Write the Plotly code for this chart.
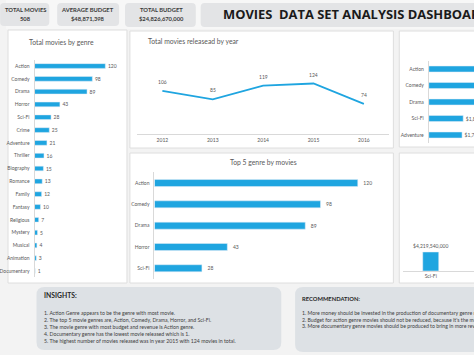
import plotly.graph_objects as go

W, H = 474, 355

# ---------------- data ----------------
genres = ["Action", "Comedy", "Drama", "Horror", "Sci-Fi", "Crime", "Adventure", "Thriller",
          "Biography", "Romance", "Family", "Fantasy", "Religious", "Mystery", "Musical",
          "Animation", "Documentary"]
genre_counts = [120, 98, 89, 43, 28, 25, 21, 16, 15, 13, 12, 10, 7, 5, 4, 3, 1]

years = ["2012", "2013", "2014", "2015", "2016"]
year_counts = [106, 85, 119, 124, 74]

top5_genres = ["Action", "Comedy", "Drama", "Horror", "Sci-Fi"]
top5_counts = [120, 98, 89, 43, 28]

rev_genres = ["Action", "Comedy", "Drama", "Sci-Fi", "Adventure"]
rev_values = [5200000000, 3900000000, 3300000000, 1820040000, 1760500000]

bud_genres = ["Sci-Fi", "Drama", "Comedy", "Action"]
bud_values = [4219540000, 7310000000, 9100000000, 11200000000]

kpi_labels = ["TOTAL MOVIES", "AVERAGE BUDGET", "TOTAL BUDGET"]
kpi_values = ["508", "$48,871,398", "$24,826,670,000"]

insights = [
    "1. Action Genre appears to be the genre with most movie.",
    "2. The top 5 movie genres are, Action, Comedy, Drama, Horror, and Sci-Fi.",
    "3. The movie genre with most budget and revenue is Action genre.",
    "4. Documentary genre has the lowest movie released which is 1.",
    "5. The highest number of movies released was in year 2015 with 124 movies in total.",
]
recommendations = [
    "1. More money should be invested in the production of documentary genre movies.",
    "2. Budget for action genre movies should not be reduced, because it's the most produced genre.",
    "3. More documentary genre movies should be produced to bring in more revenue.",
]

BLUE = "#1fa5e0"
TXT = "#595959"
FONT = "Lato"
NB = "\u00a0\u00a0"


def X(px):
    return px / W


def Y(py):
    return 1 - py / H


def money(v):
    return "${:,}".format(v)


def rrect(x0, y0, x1, y1, r, fill, line="rgba(0,0,0,0)"):
    pts = [
        ("M", x0 + r, y0), ("L", x1 - r, y0), ("Q", x1, y0, x1, y0 + r),
        ("L", x1, y1 - r), ("Q", x1, y1, x1 - r, y1), ("L", x0 + r, y1),
        ("Q", x0, y1, x0, y1 - r), ("L", x0, y0 + r), ("Q", x0, y0, x0 + r, y0),
    ]
    s = ""
    for p in pts:
        cmd = p[0]
        coords = p[1:]
        parts = []
        for i in range(0, len(coords), 2):
            parts.append("{:.5f},{:.5f}".format(X(coords[i]), Y(coords[i + 1])))
        s += cmd + " " + " ".join(parts) + " "
    s += "Z"
    return dict(type="path", path=s, xref="paper", yref="paper", fillcolor=fill,
                line=dict(color=line, width=1), layer="below")


def rect(x0, y0, x1, y1, fill="white", line="#dedede"):
    return dict(type="rect", xref="paper", yref="paper", x0=X(x0), x1=X(x1), y0=Y(y1), y1=Y(y0),
                fillcolor=fill, line=dict(color=line, width=1), layer="below")


fig = go.Figure()

valfont = dict(size=5, color=TXT, family=FONT)

# left: total movies by genre
fig.add_trace(go.Bar(x=genre_counts, y=genres, orientation="h", marker_color=BLUE, width=0.37,
                     text=[NB + str(v) for v in genre_counts], textposition="outside", cliponaxis=False,
                     constraintext="none", textfont=valfont, xaxis="x", yaxis="y"))
# line: movies by year
fig.add_trace(go.Scatter(x=years, y=year_counts, mode="lines", line=dict(color=BLUE, width=1.8),
                         cliponaxis=False, xaxis="x2", yaxis="y2"))
# top 5 genres
fig.add_trace(go.Bar(x=top5_counts, y=top5_genres, orientation="h", marker_color=BLUE, width=0.33,
                     text=[NB + str(v) for v in top5_counts], textposition="outside", cliponaxis=False,
                     constraintext="none", textfont=valfont, xaxis="x3", yaxis="y3"))
# right top: revenue by genre (cut off)
fig.add_trace(go.Bar(x=rev_values, y=rev_genres, orientation="h", marker_color=BLUE, width=0.36,
                     text=[NB + money(v) for v in rev_values], textposition="outside", cliponaxis=False,
                     constraintext="none", textfont=valfont, xaxis="x4", yaxis="y4"))
# right bottom: budget columns (cut off)
fig.add_trace(go.Bar(x=bud_genres, y=bud_values, marker_color=BLUE, width=0.29,
                     text=[money(v) for v in bud_values], textposition="outside", cliponaxis=False,
                     constraintext="none", textfont=valfont, xaxis="x5", yaxis="y5"))

tickfont = dict(size=5, color=TXT, family=FONT)
ax_common = dict(showgrid=False, zeroline=False, fixedrange=True)
cat_y = dict(type="category", tickfont=tickfont, showline=True, linecolor="#d9d9d9", ticks="",
             ticklabelstandoff=3, **ax_common)

layout = dict(
    width=W, height=H, margin=dict(l=0, r=0, t=0, b=0), paper_bgcolor="#f3f3f3",
    plot_bgcolor="rgba(0,0,0,0)", showlegend=False, font=dict(family=FONT, color=TXT),
    xaxis=dict(domain=[X(27), X(117)], range=[0, 150], visible=False, **ax_common),
    yaxis=dict(domain=[Y(277.4), Y(59.6)], range=[16.5, -0.5], anchor="x", **cat_y),
    xaxis2=dict(domain=[X(131.4), X(387.6)], range=[-0.5, 4.5], type="category", anchor="y2",
                tickfont=tickfont, showline=True, linecolor="#d9d9d9", ticks="", ticklabelstandoff=1,
                **ax_common),
    yaxis2=dict(domain=[Y(134), Y(77)], range=[0, 140], visible=False, anchor="x2", **ax_common),
    xaxis3=dict(domain=[X(149), X(373)], range=[0, 130], visible=False, anchor="y3", **ax_common),
    yaxis3=dict(domain=[Y(278.9), Y(172.4)], range=[4.5, -0.5], anchor="x3", **cat_y),
    xaxis4=dict(domain=[X(428), 1], range=[0, 1820040000 * 46 / 35], visible=False, anchor="y4", **ax_common),
    yaxis4=dict(domain=[Y(143.25), Y(60.75)], range=[4.5, -0.5], anchor="x4", **cat_y),
    xaxis5=dict(domain=[X(402), 1], range=[-0.5, -0.5 + 72 / 56], type="category", anchor="y5",
                tickfont=tickfont, showline=True, linecolor="#d9d9d9", ticks="", **ax_common),
    yaxis5=dict(domain=[Y(271), Y(160)], range=[0, 4219540000 * 111 / 19], visible=False, anchor="x5", **ax_common),
)

shapes = []
# header background
shapes.append(rect(-2, -2, 476, 29, fill="#f7f7f7", line="rgba(0,0,0,0)"))
# panels
shapes.append(rect(0, 30, 121, 283))
shapes.append(rect(124, 31, 392, 148))
shapes.append(rect(124, 153, 392, 283))
shapes.append(rect(398, 31, 480, 147))
shapes.append(rect(398, 153, 480, 283))
# KPI boxes
shapes.append(rrect(-8, 3, 42, 26, 4, "#e3e4e6"))
shapes.append(rrect(50, 3, 113, 26, 4, "#e3e4e6"))
shapes.append(rrect(119, 3, 191, 27, 4, "#e3e4e6"))
shapes.append(rrect(196, 3, 490, 27, 4, "#e3e4e6"))
# insight boxes
shapes.append(rrect(29, 287, 278, 350, 8, "#dde1e5"))
shapes.append(rrect(292, 287, 500, 352, 8, "#dde1e5"))

ann = []

# line chart data labels, positioned via the category axis scale (by category index)
for i, v in enumerate(year_counts):
    ann.append(dict(x=i, y=v, xref="x2", yref="y2", text=str(v), showarrow=False,
                    yanchor="bottom", yshift=4, font=valfont))


def txt(x, y, s, size, color=TXT, bold=False, anchor="center", family=FONT):
    ann.append(dict(x=X(x), y=Y(y), xref="paper", yref="paper", text=("<b>%s</b>" % s) if bold else s,
                    showarrow=False, xanchor=anchor, yanchor="middle",
                    font=dict(size=size, color=color, family=family)))


kpi_x = [18, 81, 156]
for i in range(3):
    txt(kpi_x[i], 10, kpi_labels[i], 5.8, color="#3a3a3a", bold=True)
    txt(kpi_x[i], 18.5, kpi_values[i], 5.8, color="#3a3a3a", bold=True)
txt(217, 14.5, "MOVIES  DATA SET ANALYSIS DASHBOARD", 12.9, color="#1a1a1a", bold=True,
    anchor="left", family="Open Sans")

txt(54, 42, "Total movies by genre", 6.8)
txt(140, 41, "Total movies releasead by year", 6.8, anchor="left")
txt(260, 162, "Top 5 genre by movies", 6.8)

txt(35, 295, "INSIGHTS:", 6.8, color="#262626", bold=True, anchor="left")
for i, s in enumerate(insights):
    txt(35, 313 + i * 7, s, 5.2, color="#404040", anchor="left")
txt(297, 298, "RECOMMENDATION:", 5.8, color="#262626", bold=True, anchor="left")
for i, s in enumerate(recommendations):
    txt(297, 313 + i * 6.6, s, 5.2, color="#404040", anchor="left")

layout["shapes"] = shapes
layout["annotations"] = ann
fig.update_layout(**layout)
fig.write_html("out.html", config={"displayModeBar": False},
               post_script="document.body.style.margin='0';document.body.style.overflow='hidden';")
